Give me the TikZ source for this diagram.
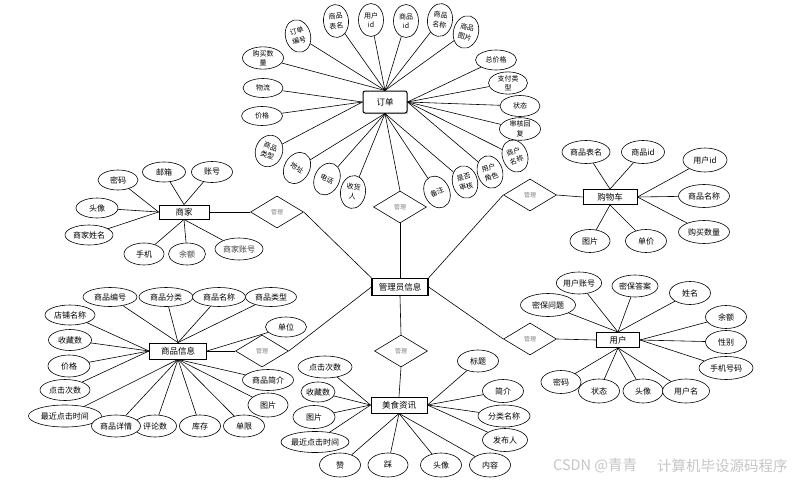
\documentclass[tikz,border=0pt]{standalone}
\usepackage{fontspec}
\setmainfont{Noto Sans CJK SC}
\usetikzlibrary{shapes.geometric,shadows}
\begin{document}
\begin{tikzpicture}[x=1pt,y=-1pt,
  ent/.style 2 args={draw, line width=0.9pt, fill=white, minimum width=#1pt, minimum height=#2pt, inner sep=0pt, font=\fontsize{8.5}{9}\selectfont},
  attr/.style 2 args={draw, ellipse, line width=0.6pt, fill=white, minimum width=#1pt, minimum height=#2pt, inner sep=0pt, font=\fontsize{8}{9}\selectfont},
  oattr/.style 2 args={draw, ellipse, line width=0.6pt, fill=white, minimum width=#1pt, minimum height=#2pt, inner sep=0pt, align=center, font=\fontsize{7}{9.5}\selectfont},
  rel/.style={draw, diamond, line width=0.6pt, fill=white, minimum width=53pt, minimum height=32pt, inner sep=0pt, font=\fontsize{6}{7}\selectfont, text=gray},
  link/.style={line width=0.6pt},
  wm/.style={text=gray!45, inner sep=0pt, anchor=west, font=\fontsize{14.5}{16}\selectfont}]
\useasboundingbox[fill=white] (0,0) rectangle (807,482);

% ---------- relations ----------
\node[rel] (r1) at (400,207) {管理};
\node[rel] (rShop) at (277,212) {管理};
\node[rel] (rCart) at (530,195) {管理};
\node[rel] (rGoods) at (262,351) {管理};
\node[rel] (rNews) at (401,351) {管理};
\node[rel] (rUser) at (530,339) {管理};

% ---------- entities ----------
\node[ent={44}{22}, rounded corners=2pt, line width=1pt, drop shadow={shadow xshift=1.2pt, shadow yshift=-1.2pt, opacity=0.35}] (order) at (385,102) {订单};
\node[ent={56}{17}, line width=1.3pt] (admin) at (400,287) {管理员信息};
\node[ent={50}{14}] (shop) at (184,212) {商家};
\node[ent={57}{16}] (goods) at (178,351) {商品信息};
\node[ent={54}{15}] (cart) at (610,197) {购物车};
\node[ent={43}{15}] (user) at (618,340) {用户};
\node[ent={56}{16}] (news) at (399,405) {美食资讯};

% ---------- relation links ----------
\draw[link] (order.south) -- (r1.north);
\draw[link] (r1.south) -- (admin.north);
\draw[link] (admin.north west) -- (rShop.east);
\draw[link] (shop.east) -- (rShop.west);
\draw[link] (admin.north east) -- (rCart.west);
\draw[link] (rCart.east) -- (cart.west);
\draw[link] (admin.west) -- (rGoods.east);
\draw[link] (goods.east) -- (rGoods.west);
\draw[link] (admin.south) -- (rNews.north);
\draw[link] (rNews.south) -- (news.north);
\draw[link] (admin.east) -- (rUser.west);
\draw[link] (rUser.east) -- (user.west);

% ---------- 订单 attributes ----------
\node[oattr={25}{33}, rotate=15] (o1) at (298,36) {订单\\编号};
\node[oattr={25}{33}, rotate=5] (o2) at (336,21) {商品\\表名};
\node[oattr={25}{33}] (o3) at (371,20) {用户\\id};
\node[oattr={25}{33}] (o4) at (406,21) {商品\\id};
\node[oattr={25}{33}, rotate=-8] (o5) at (440,20) {商品\\名称};
\node[oattr={25}{33}, rotate=-15] (o6) at (466,32) {商品\\图片};
\node[oattr={41}{21}] (o7) at (263,58) {购买数\\量};
\node[oattr={40}{19}] (o8) at (263,88) {物流};
\node[oattr={41}{19}] (o9) at (262,116) {价格};
\node[oattr={27}{32}, rotate=-20] (o10) at (269,151) {商品\\类型};
\node[oattr={25}{33}, rotate=-30] (o11) at (297,168) {地址};
\node[oattr={25}{33}, rotate=-25] (o12) at (327,179) {电话};
\node[oattr={25}{33}, rotate=-8] (o13) at (353,192) {收货\\人};
\node[oattr={25}{33}, rotate=25] (o14) at (437,192) {备注};
\node[oattr={25}{33}, rotate=15] (o15) at (465,182) {是否\\审核};
\node[oattr={25}{33}, rotate=18] (o16) at (490,172) {用户\\角色};
\node[oattr={25}{33}, rotate=20] (o17) at (515,156) {商户\\名称};
\node[oattr={41}{22}] (o18) at (520,129) {审核回\\复};
\node[oattr={40}{21}] (o19) at (520,106) {状态};
\node[oattr={39}{22}] (o20) at (508,83) {支付类\\型};
\node[oattr={41}{20}] (o21) at (496,60) {总价格};
\foreach \a in {o1,o2,o3,o4,o5,o6,o7} \draw[link] (\a) -- (order.north);
\foreach \a in {o8,o9,o10} \draw[link] (\a) -- (order.west);
\foreach \a in {o11,o12,o13,o14,o15} \draw[link] (\a) -- (order.south);
\foreach \a in {o16,o17,o18,o19,o20,o21} \draw[link] (\a) -- (order.east);

% ---------- 商家 attributes ----------
\node[attr={40}{20}] (s1) at (118,180) {密码};
\node[attr={43}{20}] (s2) at (164,172) {邮箱};
\node[attr={41}{21}] (s3) at (212,172) {账号};
\node[attr={42}{20}] (s4) at (97,208) {头像};
\node[attr={48}{20}] (s5) at (89,235) {商家姓名};
\node[attr={40}{22}] (s6) at (144,254) {手机};
\node[attr={37}{22}, text=black!75] (s7) at (187,254) {余额};
\node[attr={48}{22}, text=black!75] (s8) at (239,249) {商家账号};
\foreach \a in {s1,s4,s5} \draw[link] (\a) -- (shop.west);
\foreach \a in {s2,s3} \draw[link] (\a) -- (shop.north);
\foreach \a in {s6,s7,s8} \draw[link] (\a) -- (shop.south);

% ---------- 商品信息 attributes ----------
\node[attr={54}{19}] (g1) at (110,297) {商品编号};
\node[attr={54}{19}] (g2) at (166,297) {商品分类};
\node[attr={53}{19}] (g3) at (219,297) {商品名称};
\node[attr={51}{19}] (g4) at (271,297) {商品类型};
\node[attr={50}{20}] (g5) at (70,315) {店铺名称};
\node[attr={43}{21}] (g6) at (70,340) {收藏数};
\node[attr={42}{22}] (g7) at (69,366) {价格};
\node[attr={50}{21}] (g8) at (65,390) {点击次数};
\node[attr={73}{22}] (g9) at (65,416) {最近点击时间};
\node[attr={43}{22}] (g11) at (155,426) {评论数};
\node[attr={49}{22}] (g10) at (116,426) {商品详情};
\node[attr={41}{22}] (g12) at (200,426) {库存};
\node[attr={41}{22}] (g13) at (244,426) {单限};
\node[attr={40}{24}] (g14) at (268,405) {图片};
\node[attr={51}{21}] (g15) at (268,380) {商品简介};
\node[attr={41}{20}] (g16) at (286,327) {单位};
\foreach \a in {g1,g2,g3,g4} \draw[link] (\a) -- (goods.north);
\foreach \a in {g5,g6,g7,g8} \draw[link] (\a) -- (goods.west);
\foreach \a in {g9,g10,g11,g12,g13,g14,g15} \draw[link] (\a) -- (goods.south);
\draw[link] (g16) -- (goods.east);

% ---------- 美食资讯 attributes ----------
\node[attr={54}{22}] (n1) at (325,367) {点击次数};
\node[attr={34}{20}] (n2) at (318,392) {收藏数};
\node[attr={42}{23}] (n3) at (314,417) {图片};
\node[attr={66}{21}] (n4) at (315,442) {最近点击时间};
\node[attr={41}{24}] (n5) at (340,465) {赞};
\node[attr={40}{24}] (n6) at (388,465) {踩};
\node[attr={41}{24}] (n7) at (441,465) {头像};
\node[attr={41}{24}] (n8) at (490,465) {内容};
\node[attr={45}{23}] (n9) at (505,440) {发布人};
\node[attr={52}{22}] (n10) at (504,416) {分类名称};
\node[attr={41}{23}] (n11) at (503,391) {简介};
\node[attr={41}{22}] (n12) at (478,361) {标题};
\foreach \a in {n1,n2,n3,n4} \draw[link] (\a) -- (news.west);
\foreach \a in {n5,n6,n7,n8} \draw[link] (\a) -- (news.south);
\foreach \a in {n9,n10,n11,n12} \draw[link] (\a) -- (news.east);

% ---------- 购物车 attributes ----------
\node[attr={48}{23}] (c1) at (586,152) {商品表名};
\node[attr={43}{23}] (c2) at (643,152) {商品id};
\node[attr={44}{24}] (c3) at (705,160) {用户id};
\node[attr={51}{23}] (c4) at (704,196) {商品名称};
\node[attr={51}{23}] (c5) at (704,232) {购买数量};
\node[attr={40}{23}] (c6) at (590,241) {图片};
\node[attr={41}{23}] (c7) at (646,241) {单价};
\foreach \a in {c1,c2} \draw[link] (\a) -- (cart.north);
\foreach \a in {c3,c4,c5} \draw[link] (\a) -- (cart.east);
\foreach \a in {c6,c7} \draw[link] (\a) -- (cart.south);

% ---------- 用户 attributes ----------
\node[attr={45}{22}] (u1) at (579,283) {用户账号};
\node[attr={46}{22}] (u2) at (635,286) {密保答案};
\node[attr={41}{23}] (u3) at (690,293) {姓名};
\node[attr={55}{23}] (u4) at (548,305) {密保问题};
\node[attr={41}{23}] (u5) at (726,317) {余额};
\node[attr={41}{23}] (u6) at (726,342) {性别};
\node[attr={54}{23}] (u7) at (726,368) {手机号码};
\node[attr={40}{23}] (u8) at (561,382) {密码};
\node[attr={41}{24}] (u9) at (599,391) {状态};
\node[attr={40}{24}] (u10) at (643,391) {头像};
\node[attr={47}{24}] (u11) at (686,391) {用户名};
\foreach \a in {u1,u2,u3,u4} \draw[link] (\a) -- (user.north);
\foreach \a in {u5,u6,u7} \draw[link] (\a) -- (user.east);
\foreach \a in {u8,u9,u10,u11} \draw[link] (\a) -- (user.south);

% ---------- watermark ----------
\node[wm] (wm1) at (553,466) {CSDN @青青};
\node[wm] (wm2) at (657,466) {计算机毕设源码程序};
\end{tikzpicture}
\end{document}
